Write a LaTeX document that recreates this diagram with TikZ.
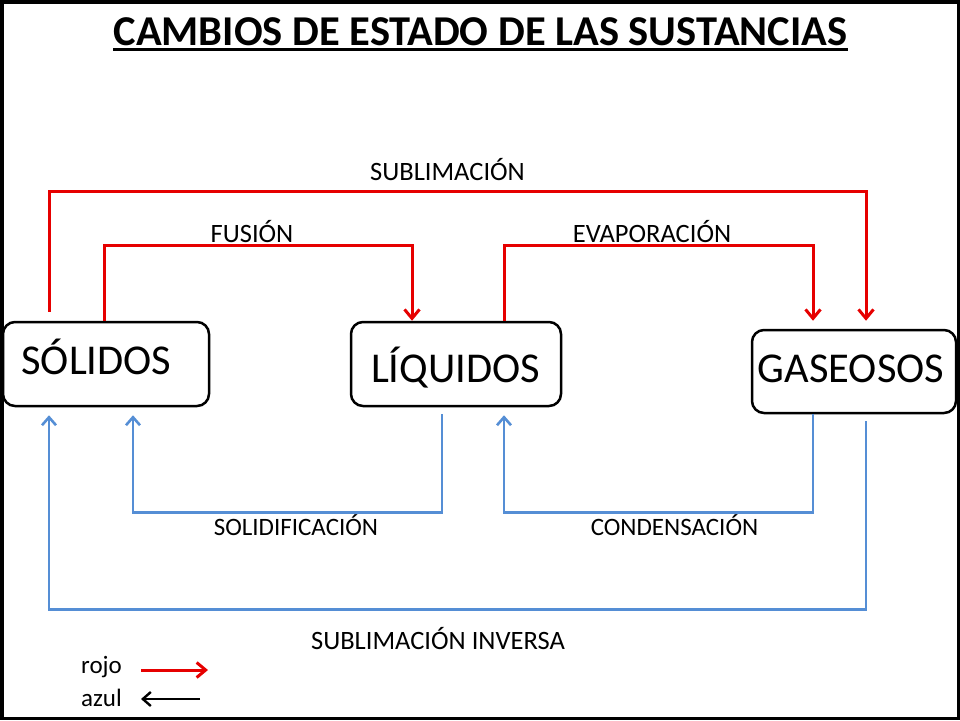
\documentclass[tikz,border=0pt]{standalone}
\usepackage{fontspec}
\setmainfont{Carlito}
\usetikzlibrary{arrows.meta}
\definecolor{myred}{RGB}{230,0,0}
\definecolor{myblue}{RGB}{85,142,213}
\tikzset{
  statebox/.style={draw=black, line width=2.5pt, rounded corners=12pt, fill=white, inner sep=0pt},
  bigtxt/.style={font=\fontsize{42.5}{50}\selectfont, inner sep=0pt, anchor=base},
  smalltxt/.style={font=\fontsize{26.5}{30}\selectfont, inner sep=0pt, anchor=base},
  lowtxt/.style={font=\fontsize{25}{29}\selectfont, inner sep=0pt, anchor=base},
  legtxt/.style={font=\fontsize{25}{29}\selectfont, inner sep=0pt, anchor=base west},
  redline/.style={draw=myred, line width=3pt, -{Straight Barb[length=9pt,width=15pt,line width=3pt]}},
  blueline/.style={draw=myblue, line width=2.6pt, -{Straight Barb[length=8pt,width=14pt,line width=2.6pt]}},
  blackline/.style={draw=black, line width=2.4pt, -{Straight Barb[length=8pt,width=14pt,line width=2.4pt]}},
}
\begin{document}
\begin{tikzpicture}[x=1pt, y=-1pt]
\useasboundingbox (0,0) rectangle (960,720);
\draw[line width=3.5pt] (1.75,1.75) rectangle (958.25,718.25);

% title
\node[font=\bfseries\fontsize{42.5}{50}\selectfont, inner sep=0pt, anchor=base] (title) at (480.5,45) {CAMBIOS DE ESTADO DE LAS SUSTANCIAS};
\draw[line width=3pt] ([yshift=-4pt]title.base west) -- ([yshift=-4pt]title.base east);

% boxes
\node[statebox, minimum width=206pt, minimum height=84pt] (sol) at (106,364) {};
\node[statebox, minimum width=210pt, minimum height=84pt] (liq) at (456,364) {};
\node[statebox, minimum width=204pt, minimum height=83pt] (gas) at (854,371.5) {};
\node[bigtxt] (solt) at (96.5,374) {SÓLIDOS};
\node[bigtxt] (liqt) at (455.5,382) {LÍQUIDOS};
\node[bigtxt] (gast) at (851,382) {GASEOSOS};

% red connectors
\draw[redline] ([xshift=-57pt,yshift=9pt]sol.north) -- ++(0,-120) -| ([xshift=12pt,yshift=8pt]gas.north);
\draw[redline] ([xshift=-2pt]sol.north) -- ++(0,-75) -| ([xshift=-44pt]liq.north);
\draw[redline] ([xshift=48pt]liq.north) -- ++(0,-75) -| ([xshift=-41pt,yshift=8pt]gas.north);

% blue connectors
\draw[blueline] ([xshift=-14pt,yshift=-7pt]liq.south) -- ++(0,98) -| ([xshift=27pt,yshift=-8pt]sol.south);
\draw[blueline] ([xshift=-41pt]gas.south) -- ++(0,98) -| ([xshift=48pt,yshift=-8pt]liq.south);
\draw[blueline] ([xshift=12pt,yshift=-7pt]gas.south) -- ++(0,188) -| ([xshift=-57pt,yshift=-8pt]sol.south);

% labels
\node[smalltxt] (lsub) at (447.5,180) {SUBLIMACIÓN};
\node[smalltxt] (lfus) at (252,242) {FUSIÓN};
\node[smalltxt] (leva) at (652,242) {EVAPORACIÓN};
\node[lowtxt] (lsol) at (296,535) {SOLIDIFICACIÓN};
\node[lowtxt] (lcon) at (674.5,535) {CONDENSACIÓN};
\node[smalltxt] (linv) at (438,649) {SUBLIMACIÓN INVERSA};

% legend
\node[legtxt] (rojo) at (81,673) {rojo};
\node[legtxt] (azul) at (81,706) {azul};
\coordinate (r1) at (141,670);
\coordinate (r2) at (208,670);
\coordinate (b1) at (200,699);
\coordinate (b2) at (141,699);
\draw[redline] (r1) -- (r2);
\draw[blackline] (b1) -- (b2);
\end{tikzpicture}
\end{document}
